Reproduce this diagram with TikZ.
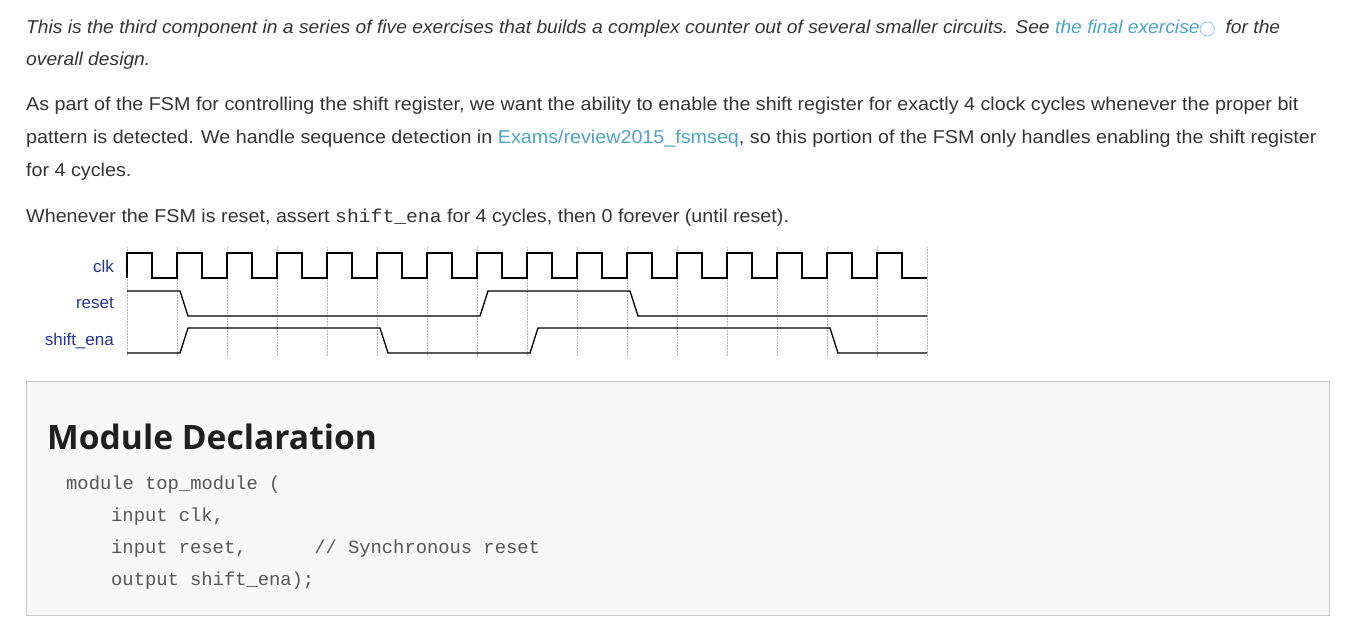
\documentclass[tikz,border=0pt]{standalone}
\usepackage{fontspec}
\setmainfont{Liberation Sans}
\newfontfamily\codefont{Liberation Mono}
\newfontfamily\headfont{Open Sans}
\definecolor{txt}{HTML}{333333}
\definecolor{lnk}{HTML}{4AA3C8}
\definecolor{sig}{HTML}{2233AA}
\definecolor{boxbg}{HTML}{F7F7F7}
\definecolor{boxbd}{HTML}{C8C8C8}
\definecolor{code}{HTML}{555555}
\begin{document}
\begin{tikzpicture}[x=1pt,y=-1pt,
  para/.style={anchor=base west,inner sep=0,text=txt,font=\fontsize{18.6}{22}\selectfont},
  lab/.style={anchor=east,inner sep=0,text=sig,font=\fontsize{17}{20}\selectfont},
  wave/.style={line width=1.3pt,black},
  gridl/.style={densely dotted,gray!60,line width=0.5pt},
  codel/.style={anchor=base west,inner sep=0,text=code,font=\codefont\fontsize{18.8}{22}\selectfont}]
\useasboundingbox (0,0) rectangle (1355,623);
% paragraphs
\node[para] (l1) at (26,34) {\scalebox{1.035}[1]{\itshape This is the third component in a series of five exercises that builds a complex counter out of several smaller circuits. See \textcolor{lnk}{the final exercise}\tikz[baseline=-5pt]\draw[lnk!60,line width=0.8pt](0,0) circle (7pt);\ \ for the}};
\node[para] (l2) at (26,66) {\scalebox{1.035}[1]{\itshape overall design.}};
\node[para] (l3) at (26,111) {\scalebox{1.06}[1]{As part of the FSM for controlling the shift register, we want the ability to enable the shift register for exactly 4 clock cycles whenever the proper bit}};
\node[para] (l4) at (26,144) {\scalebox{1.06}[1]{pattern is detected. We handle sequence detection in \textcolor{lnk}{Exams/review2015\_fsmseq}, so this portion of the FSM only handles enabling the shift register}};
\node[para] (l5) at (26,176) {\scalebox{1.06}[1]{for 4 cycles.}};
\node[para] (l6) at (26,222) {\scalebox{1.06}[1]{Whenever the FSM is reset, assert {\codefont shift\_ena} for 4 cycles, then 0 forever (until reset).}};
% grid
\foreach \k in {0,...,16} \draw[gridl] (127+50*\k,247) -- (127+50*\k,356);
% labels
\node[lab] (nclk) at (114,266) {clk};
\node[lab] (nrst) at (114,303) {reset};
\node[lab] (nse) at (114,341) {shift\_ena};
% clk
\draw[wave] (127,278) \foreach \k in {0,...,15} {-- (127+50*\k,253) -- (152+50*\k,253) -- (152+50*\k,278) -- (177+50*\k,278)} -- (927,278);
% reset
\draw[wave] (127,291) -- (180,291) -- (188,316) -- (480,316) -- (488,291) -- (630,291) -- (638,316) -- (927,316);
% shift_ena
\draw[wave] (127,353) -- (180,353) -- (188,328) -- (380,328) -- (388,353) -- (530,353) -- (538,328) -- (830,328) -- (838,353) -- (927,353);
% box
\draw[boxbd,fill=boxbg] (26.5,381.5) rectangle (1329.5,615.5);
\node[anchor=base west,inner sep=0,text=black!88,font=\headfont\bfseries\fontsize{33.6}{38}\selectfont] (hd) at (47,449) {Module Declaration};
\node[codel] (c1) at (66,489) {module top\_module (};
\node[codel] (c2) at (111,521) {input clk,};
\node[codel] (c3) at (111,553) {input reset,~~~~~~// Synchronous reset};
\node[codel] (c4) at (111,585) {output shift\_ena);};
\end{tikzpicture}
\end{document}
